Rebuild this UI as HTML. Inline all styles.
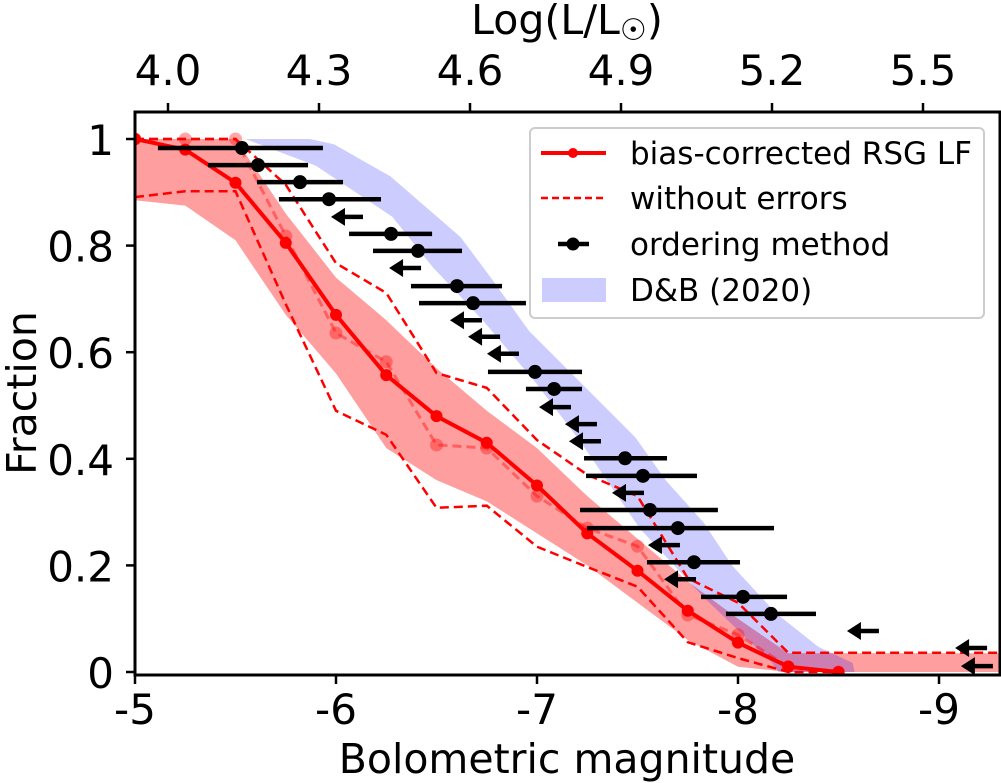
<!DOCTYPE html>
<html><head><meta charset="utf-8"><style>
body{margin:0;background:#fff;}
svg{display:block;font-family:"DejaVu Sans","Liberation Sans",sans-serif;}
</style></head><body>
<svg id="chart" width="1001" height="783" viewBox="0 0 1001 783" xmlns="http://www.w3.org/2000/svg">
<defs><clipPath id="clip"><rect x="135" y="112" width="865" height="563"/></clipPath></defs>
<g id="plot" clip-path="url(#clip)"></g>
<g id="axes"></g>
</svg>
<script>
const magBins=[-5,-5.25,-5.5,-5.75,-6,-6.25,-6.5,-6.75,-7,-7.25,-7.5,-7.75,-8,-8.25,-8.5];
const lfMain=[1,0.98,0.918,0.805,0.67,0.557,0.48,0.43,0.35,0.26,0.19,0.115,0.055,0.01,0.0];
const lfNoErr=[1,1,1,0.818,0.636,0.582,0.426,0.42,0.33,0.27,0.236,0.107,0.07,0.01,0.0];
const noErrUpper=[1,1,1,0.914,0.767,0.711,0.561,0.533,0.435,0.37,0.33,0.176,0.13,0.036,0.036];
const noErrLower=[0.891,0.902,0.902,0.69,0.49,0.445,0.308,0.312,0.235,0.197,0.16,0.056,0.026,0,0];
const bandUpper=[1,1,1,0.86,0.74,0.66,0.57,0.49,0.42,0.33,0.25,0.17,0.1,0.035,0.035];
const bandLower=[0.885,0.875,0.81,0.67,0.56,0.42,0.36,0.32,0.26,0.2,0.13,0.06,0.01,0,0];
const dbUpperX=[-5.5,-5.87,-5.99,-6.27,-6.62,-6.77,-6.96,-7.49,-7.64,-7.83,-7.97,-8.19,-8.4,-8.57,-8.58];
const dbUpperY=[1,1,0.99,0.93,0.816,0.74,0.64,0.44,0.36,0.28,0.2,0.11,0.047,0.017,0];
const dbLowerX=[-5.55,-5.9,-6.28,-6.48,-6.73,-7,-7.22,-7.51,-7.83,-8.17,-8.2];
const dbLowerY=[1,0.95,0.854,0.76,0.66,0.54,0.43,0.27,0.14,0.017,0];
const ordX=[-5.532,-5.612,-5.821,-5.965,-6.274,-6.408,-6.602,-6.682,-6.990,-7.085,-7.438,-7.527,-7.562,-7.701,-7.781,-8.025,-8.164];
const ordY=[0.983,0.951,0.919,0.887,0.822,0.79,0.724,0.692,0.563,0.531,0.401,0.368,0.304,0.27,0.206,0.141,0.109];
const ordLo=[-5.114,-5.363,-5.607,-5.716,-6.065,-6.184,-6.373,-6.413,-6.756,-6.945,-7.234,-7.244,-7.214,-7.249,-7.547,-7.816,-7.940];
const ordHi=[-5.935,-5.861,-6.035,-6.224,-6.478,-6.627,-6.826,-6.945,-7.224,-7.224,-7.647,-7.796,-7.900,-8.179,-8.010,-8.244,-8.388];
const limX=[-5.975,-6.264,-6.567,-6.657,-6.751,-7.010,-7.139,-7.159,-7.373,-7.552,-7.632,-8.542,-9.080,-9.109];
const limY=[0.854,0.758,0.66,0.629,0.597,0.497,0.465,0.433,0.336,0.238,0.174,0.077,0.045,0.011];
const xTicks=[-5,-6,-7,-8,-9];
const xTickLabels=["-5","-6","-7","-8","-9"];
const yTicks=[0,0.2,0.4,0.6,0.8,1];
const yTickLabels=["0","0.2","0.4","0.6","0.8","1"];
const topTicks=[4.0,4.3,4.6,4.9,5.2,5.5];
const topTickLabels=["4.0","4.3","4.6","4.9","5.2","5.5"];

const NS="http://www.w3.org/2000/svg";
const X=m=>135+(-5-m)*201;
const Y=f=>672-f*533;
const TX=l=>168+(l-4.0)/0.3*151;
const plot=document.getElementById('plot');
const axes=document.getElementById('axes');
function mk(tag,attrs,parent){const e=document.createElementNS(NS,tag);for(const k in attrs)e.setAttribute(k,attrs[k]);parent.appendChild(e);return e;}
function pts(xs,ys){return xs.map((x,i)=>X(x).toFixed(1)+','+Y(ys[i]).toFixed(1)).join(' ');}

const bx=magBins.concat([-9.5]);
const bu=bandUpper.concat([0.035]);
const bl=bandLower.concat([0]);
let band=mk('polygon',{points:pts(bx,bu)+' '+pts(bx.slice().reverse(),bl.slice().reverse()),fill:'#ff0000','fill-opacity':0.38,stroke:'none'},plot);


let db=mk('polygon',{points:pts(dbUpperX,dbUpperY)+' '+pts(dbLowerX.slice().reverse(),dbLowerY.slice().reverse()),fill:'#0000ff','fill-opacity':0.2,stroke:'none'},plot);


const ux=magBins.concat([-9.5]);
let du=mk('polyline',{points:pts(ux,noErrUpper.concat([0.036])),fill:'none',stroke:'#ff0000','stroke-width':2.5,'stroke-dasharray':'9,5'},plot);


let dl=mk('polyline',{points:pts(magBins,noErrLower),fill:'none',stroke:'#ff0000','stroke-width':2.5,'stroke-dasharray':'9,5'},plot);


let dc=mk('polyline',{points:pts(magBins,lfNoErr),fill:'none',stroke:'#ff0000','stroke-opacity':0.4,'stroke-width':3,'stroke-dasharray':'9,5'},plot);


magBins.forEach((m,i)=>{let c=mk('circle',{cx:X(m),cy:Y(lfNoErr[i]),r:6.5,fill:'#ff0000','fill-opacity':0.35},plot);

});
let ml=mk('polyline',{points:pts(magBins,lfMain),fill:'none',stroke:'#ff0000','stroke-width':4},plot);


magBins.forEach((m,i)=>{let c=mk('circle',{cx:X(m),cy:Y(lfMain[i]),r:6,fill:'#ff0000'},plot);

});
ordX.forEach((m,i)=>{
 let l=mk('line',{x1:X(ordLo[i]),x2:X(ordHi[i]),y1:Y(ordY[i]),y2:Y(ordY[i]),stroke:'#000','stroke-width':4.5},plot);
 
 
 let c=mk('circle',{cx:X(m),cy:Y(ordY[i]),r:7,fill:'#000'},plot);
 
 
});
limX.forEach((m,i)=>{
 const x=X(m),y=Y(limY[i]);
 let l=mk('line',{x1:x+8,x2:x+32,y1:y,y2:y,stroke:'#000','stroke-width':4.5},plot);
 
 
 let p=mk('polygon',{points:`${x},${y} ${x+14},${y-9} ${x+14},${y+9}`,fill:'#000'},plot);
 
 
});
let fr=mk('rect',{x:135,y:112,width:865,height:563,fill:'none',stroke:'#000','stroke-width':3},axes);


xTicks.forEach((t,i)=>{const x=X(t);
 mk('line',{x1:x,x2:x,y1:675,y2:684,stroke:'#000','stroke-width':2.5},axes);
 let tx=mk('text',{x:x,y:724,'font-size':42,'text-anchor':'middle'},axes);tx.textContent=xTickLabels[i];
 
 });
yTicks.forEach((t,i)=>{const y=Y(t);
 mk('line',{x1:126,x2:135,y1:y,y2:y,stroke:'#000','stroke-width':2.5},axes);
 let tx=mk('text',{x:114,y:y+16,'font-size':42,'text-anchor':'end'},axes);tx.textContent=yTickLabels[i];
 
 });
topTicks.forEach((t,i)=>{const x=TX(t);
 mk('line',{x1:x,x2:x,y1:103,y2:112,stroke:'#000','stroke-width':2.5},axes);
 let tx=mk('text',{x:x,y:85,'font-size':42,'text-anchor':'middle'},axes);tx.textContent=topTickLabels[i];
 
 });
</script>
<svg style="position:absolute;left:0;top:0" width="1001" height="783" xmlns="http://www.w3.org/2000/svg" font-family="DejaVu Sans, Liberation Sans, sans-serif">
<text x="567" y="773" font-size="41" text-anchor="middle">Bolometric magnitude</text>
<text x="0" y="0" font-size="41" text-anchor="middle" transform="translate(36,393) rotate(-90)">Fraction</text>
<text x="567" y="34" font-size="41" text-anchor="middle">Log(L/L<tspan font-size="30" dy="6">☉</tspan><tspan dy="-6">)</tspan></text>
<g>
<rect x="530" y="128" width="454" height="190" rx="5" fill="#fff" fill-opacity="0.85" stroke="#ccc" stroke-width="2"/>
<line x1="541" y1="153" x2="606" y2="153" stroke="#ff0000" stroke-width="4"/><circle cx="573" cy="153" r="5" fill="#ff0000"/>
<text x="630" y="164" font-size="31">bias-corrected RSG LF</text>
<line x1="541" y1="198" x2="606" y2="198" stroke="#ff0000" stroke-width="2.5" stroke-dasharray="7,4"/>
<text x="630" y="209" font-size="31">without errors</text>
<line x1="558" y1="244" x2="589" y2="244" stroke="#000" stroke-width="4.5"/><circle cx="573" cy="244" r="6.5" fill="#000"/>
<text x="630" y="255" font-size="31">ordering method</text>
<rect x="542" y="278" width="64" height="24" fill="#0000ff" fill-opacity="0.2"/>
<text x="630" y="301" font-size="31">D&amp;B (2020)</text>
</g>
</svg>
</body></html>
